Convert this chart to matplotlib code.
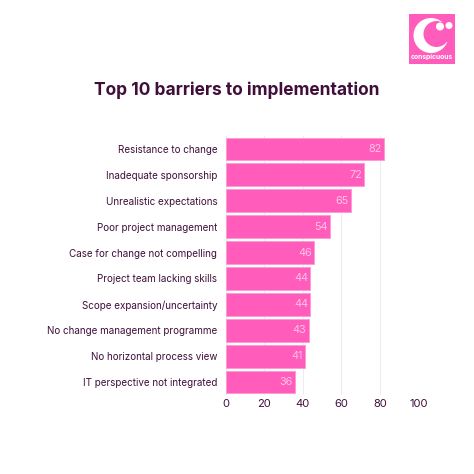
import matplotlib
matplotlib.use("Agg")
import matplotlib.pyplot as plt
from matplotlib.patches import Rectangle, Wedge, Circle

barriers = ["Resistance to change", "Inadequate sponsorship", "Unrealistic expectations",
            "Poor project management", "Case for change not compelling",
            "Project team lacking skills", "Scope expansion/uncertainty",
            "No change management programme", "No horizontal process view",
            "IT perspective not integrated"]
scores = [82, 72, 65, 54, 46, 44, 44, 43, 41, 36]
x_ticks = [0, 20, 40, 60, 80, 100]

PINK = "#ff5cbb"
EDGE = "#ff9ad8"
DARK = "#3f0f3a"
W = H = 474

plt.rcParams["font.family"] = ["Inter", "DejaVu Sans"]

fig = plt.figure(figsize=(W / 100, H / 100), dpi=100, facecolor="white")
ax = fig.add_axes([225.7 / W, 1 - 395 / H, (418.3 - 225.7) / W, (395 - 136) / H])

ypos = range(len(barriers))
ax.barh(ypos, scores, height=0.88, color=PINK, edgecolor=EDGE, linewidth=0.7, zorder=3)
for y, v in zip(ypos, scores):
    ax.text(v - 1.2, y, str(v), ha="right", va="center", color="#ffc4e8", fontsize=7.8, zorder=4)

ax.set_xlim(0, 100)
ax.set_ylim(len(barriers) - 0.5, -0.5)
ax.set_xticks(x_ticks)
ax.set_yticks(list(ypos))
ax.set_yticklabels(barriers)
ax.tick_params(axis="both", length=0, colors=DARK, labelsize=7.1)
ax.tick_params(axis="x", labelsize=8, pad=3)
ax.tick_params(axis="y", pad=6)
ax.grid(axis="x", color="#eeeaee", linewidth=0.7, zorder=0)
ax.set_axisbelow(True)
for s in ax.spines.values():
    s.set_visible(False)

fig.text(237 / W, 1 - 90 / H, "Top 10 barriers to implementation", ha="center", va="center",
         color=DARK, fontsize=12.5, fontweight="bold")


def px(x, y):
    return (x / W, 1 - y / H)


# logo block top right, the C is a crescent with two dots
tf = fig.transFigure
fig.add_artist(Rectangle(px(408.5, 64), 46.5 / W, 50 / H, transform=tf, facecolor=PINK, edgecolor="none"))
fig.add_artist(Wedge(px(431, 35.5), 17.5 / W, 50, 338, transform=tf, facecolor="white", edgecolor="none"))
fig.add_artist(Circle(px(436.5, 34), 13 / W, transform=tf, facecolor=PINK, edgecolor="none"))
fig.add_artist(Circle(px(440, 26.5), 4 / W, transform=tf, facecolor="white", edgecolor="none"))
fig.add_artist(Circle(px(449, 25.5), 3.5 / W, transform=tf, facecolor="white", edgecolor="none"))
fig.text(432 / W, 1 - 57 / H, "conspicuous", ha="center", va="center", color="white",
         fontsize=4.9, fontweight="bold")

fig.savefig("out.png", dpi=100)
